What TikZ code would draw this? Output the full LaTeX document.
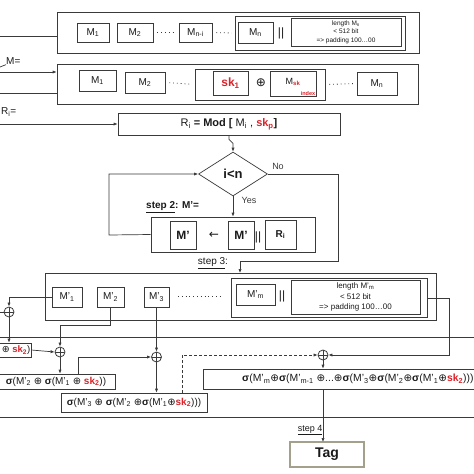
\documentclass[tikz,border=0pt]{standalone}
\usepackage{fontspec}
\setmainfont{Liberation Sans}
\newfontfamily\dvs{DejaVu Sans}
\usetikzlibrary{arrows.meta,shapes.geometric}
\definecolor{lc}{HTML}{3A3A3A}
\definecolor{tc}{HTML}{1A1A1A}
\definecolor{kr}{HTML}{D8232A}
\definecolor{tagc}{HTML}{A3A18C}
\newcommand{\xo}{{\dvs ⊕}}
\newcommand{\skr}[1]{\textcolor{kr}{\bfseries sk\textsubscript{#1}}}
\newcommand{\sg}{\textbf{σ}}
\begin{document}
\begin{tikzpicture}[x=1pt,y=-1pt,
  bx/.style={draw=lc, line width=0.7pt, inner sep=0pt, text=tc, font=\fontsize{10}{12}\selectfont},
  lbl/.style={inner sep=0pt, text=tc, font=\fontsize{10}{12}\selectfont},
  xor/.style={circle, draw=lc, line width=0.8pt, minimum size=10pt, inner sep=0pt,
    path picture={\draw[lc, line width=0.8pt] (path picture bounding box.north) -- (path picture bounding box.south)
      (path picture bounding box.west) -- (path picture bounding box.east);}},
  ln/.style={lc, line width=0.7pt},
  arr/.style={lc, line width=0.7pt, -{Latex[length=4pt,width=3.2pt]}},
  dts/.style={lc, line width=0.8pt, dash pattern=on 0.8pt off 3pt, shorten <=4pt, shorten >=3pt}]
\useasboundingbox (0,0) rectangle (474,474);
\fill[white] (0,0) rectangle (474,474);

% ---------- row 1 ----------
\node[bx, minimum width=362, minimum height=41] (b1) at (238,32.5) {};
\node[bx, minimum width=32, minimum height=19] (m1) at (93,32.5) {M\textsubscript{1}};
\node[bx, minimum width=36, minimum height=19] (m2) at (135,32.5) {M\textsubscript{2}};
\node[bx, minimum width=33, minimum height=19] (mni) at (195.5,32.5) {M\textsubscript{n-i}};
\node[bx, minimum width=170, minimum height=34] (in1) at (320,33) {};
\node[bx, minimum width=35, minimum height=21] (mn) at (255.5,32.5) {M\textsubscript{n}};
\node[lbl, font=\fontsize{12}{12}\selectfont] (bar1) at (281,33) {||};
\node[bx, minimum width=110, minimum height=28, align=center, font=\fontsize{6.5}{8.5}\selectfont] (len1) at (346,32) {length M\textsubscript{n}\\< 512 bit\\=> padding 100…00};
\draw[dts] (m2.east) -- (mni.west);
\draw[dts] (mni.east) -- (in1.west);
\coordinate (c1) at (0,36);
\draw[ln] (c1) -- (c1 -| b1.west);

% ---------- row 2 ----------
\node[lbl, anchor=west] (lm) at (6,61) {M=};
\draw[ln] (0,67) -- (lm.south west);
\node[bx, minimum width=361, minimum height=40] (b2) at (237.5,84) {};
\node[bx, minimum width=37, minimum height=21] (n1) at (97.5,80.5) {M\textsubscript{1}};
\node[bx, minimum width=40, minimum height=21] (n2) at (145,82.5) {M\textsubscript{2}};
\node[bx, minimum width=130, minimum height=31] (in2) at (260,84.5) {};
\node[bx, minimum width=35, minimum height=24, font=\fontsize{12}{12}\selectfont] (sk1) at (230.5,83) {\skr{1}};
\node[lbl, font=\fontsize{12}{12}\selectfont\dvs] (xo1) at (261,83) {⊕};
\node[bx, minimum width=46, minimum height=25, font=\fontsize{9}{10}\selectfont,
  label={[anchor=south east, inner sep=1pt, text=kr, font=\fontsize{5.5}{6}\selectfont\bfseries]south east:index}] (msk) at (293,83.5)
  {\raisebox{4pt}{M\textsubscript{\textcolor{kr}{\bfseries sk}}}\hspace{10pt}};
\node[bx, minimum width=40, minimum height=23] (mn2) at (377,83.5) {M\textsubscript{n}};
\draw[dts] (n2.east) -- (in2.west);
\draw[dts] (in2.east) -- (mn2.west);
\coordinate (c2) at (0,72);
\coordinate (c3) at (0,93);
\draw[arr] (c2) -- (c2 -| b2.west);
\draw[ln] (c3) -- (c3 -| b2.west);

% ---------- Mod ----------
\node[lbl, anchor=west] (lr) at (1,112) {R\textsubscript{i}=};
\node[bx, minimum width=222, minimum height=22, font=\fontsize{11}{12}\selectfont] (mod) at (229,124)
  {R\textsubscript{i} \textbf{= Mod [} M\textsubscript{i} , \skr{p}\textbf{]}};
\coordinate (c4) at (0,124);
\draw[arr] (c4) -- (mod.west);

% ---------- decision ----------
\node[diamond, draw=lc, line width=0.7pt, minimum width=69, minimum height=44, inner sep=0pt, aspect=1.6,
  text=tc, font=\bfseries\fontsize{13}{13}\selectfont] (dia) at (233,174) {i<n};
\draw[arr] (mod.south) -- ++(0,4) -- ++(4,4) -- (dia.north);
\node[lbl, text=lc, font=\fontsize{9}{10}\selectfont] (no) at (278,166) {No};
\node[lbl, text=lc, font=\fontsize{9}{10}\selectfont] (yes) at (249,200) {Yes};

% ---------- step 2 ----------
\node[lbl, anchor=west, font=\bfseries\fontsize{10}{12}\selectfont] (s2) at (146,207) {\underline{step 2}: M'=};
\node[bx, minimum width=164, minimum height=35] (st2) at (233,234.5) {};
\node[bx, minimum width=26, minimum height=28, font=\bfseries\fontsize{12}{12}\selectfont] (mp1) at (183,235) {M'};
\node[lbl, font=\fontsize{12}{12}\selectfont\dvs] (la) at (214,235) {←};
\node[bx, minimum width=26, minimum height=28, font=\bfseries\fontsize{12}{12}\selectfont] (mp2) at (241,235) {M'};
\node[lbl, font=\fontsize{12}{12}\selectfont] (bar2) at (258,237) {||};
\node[bx, minimum width=31, minimum height=29, font=\bfseries\fontsize{10}{12}\selectfont] (ri) at (280.5,234.5) {R\textsubscript{i}};
\draw[arr] (dia.south) -- (st2.north);
\draw[arr] (st2.west) -- (109,235) -- (109,174) -- (dia.west);

% ---------- step 3 ----------
\node[lbl, font=\fontsize{10}{12}\selectfont] (s3) at (213,263) {\underline{step 3}:};
\node[bx, minimum width=391, minimum height=47] (st3) at (240.5,296.5) {};
\node[bx, minimum width=30, minimum height=20] (q1) at (67,297) {M'\textsubscript{1}};
\node[bx, minimum width=27, minimum height=20] (q2) at (110.5,297) {M'\textsubscript{2}};
\node[bx, minimum width=25, minimum height=20] (q3) at (156.5,297) {M'\textsubscript{3}};
\node[bx, minimum width=196, minimum height=39] (in3) at (329,297.5) {};
\node[bx, minimum width=39, minimum height=21] (qm) at (255.5,294.5) {M'\textsubscript{m}};
\node[lbl, font=\fontsize{12}{12}\selectfont] (bar3) at (282,296) {||};
\node[bx, minimum width=129, minimum height=34, align=center, font=\fontsize{8}{10.5}\selectfont] (len3) at (355.5,297) {length M'\textsubscript{m}\\< 512 bit\\=> padding 100…00};
\coordinate (d3a) at (178,296);
\coordinate (d3b) at (222,296);
\draw[dts, shorten <=0pt, shorten >=0pt] (d3a) -- (d3b);
\draw[arr] (dia.east) -- (338,174) -- (338,261) -- (240,261) -- (240,273);

% ---------- separator lines ----------
\coordinate (h1a) at (0,337); \coordinate (h1b) at (474,337);
\coordinate (h2a) at (0,417); \coordinate (h2b) at (474,417);
\draw[ln] (h1a) -- (h1b);
\draw[ln] (h2a) -- (h2b);

% ---------- chain ----------
\node[xor] (x1) at (9,312) {};
\node[xor] (x2) at (60,352) {};
\node[xor] (x3) at (156.5,357) {};
\node[xor] (xm) at (323,355) {};
\node[bx, minimum width=38, minimum height=14] (f1) at (12,350) {};
\node[lbl, anchor=east, font=\fontsize{9.5}{11}\selectfont] (f1t) at (30.5,350) {\xo{} \skr{2})};
\node[bx, minimum width=118, minimum height=15, font=\fontsize{10}{11}\selectfont] (f2) at (56,381.5)
  {\sg(M'\textsubscript{2} \xo{} \sg(M'\textsubscript{1} \xo{} \skr{2}))};
\node[bx, minimum width=146, minimum height=19, font=\fontsize{10}{11}\selectfont] (f3) at (134,402.5)
  {\sg(M'\textsubscript{3} \xo{} \sg(M'\textsubscript{2} \xo\sg(M'\textsubscript{1}\xo\skr{2})))};
\node[bx, minimum width=275, minimum height=20] (f4) at (340.5,379) {};
\node[lbl, anchor=west, font=\fontsize{10.4}{11}\selectfont] (f4t) at (242,379)
  {\sg(M'\textsubscript{m}\xo\sg(M'\textsubscript{m-1} \xo...\xo\sg(M'\textsubscript{3}\xo\sg(M'\textsubscript{2}\xo\sg(M'\textsubscript{1}\xo\skr{2})))};

\draw[arr] (q1.west) -- (9,297) -- (x1.north);
\coordinate (c5) at (0,312);
\draw[ln] (c5) -- (x1.west);
\draw[arr] (x1.south) -- (x1.south |- f1.north);
\draw[arr] (f1.east) -- (x2.west);
\draw[arr] (q2.south) -- (110.5,325) -- (60,325) -- (x2.north);
\draw[arr] (x2.south) -- (x2.south |- f2.north);
\draw[arr] (78,374) -- (78,357) -- (x3.west);
\draw[arr] (q3.south) -- (x3.north);
\draw[arr] (x3.south) -- (x3.south |- f3.north);
\draw[arr, dash pattern=on 3pt off 2pt] (182,393) -- (182,355) -- (xm.west);
\draw[arr] (in3.east |- 0,298) -- (449,298) -- (449,355) -- (xm.east);
\draw[arr] (xm.south) -- (xm.south |- f4.north);

% ---------- tag ----------
\node[draw=tagc, line width=1.3pt, minimum width=74, minimum height=25, text=tc, font=\bfseries\fontsize{14}{14}\selectfont] (tag) at (327,454.5) {Tag};
\node[lbl, anchor=east, font=\fontsize{9}{10}\selectfont] (s4) at (325,430) {\underline{step 4}:};
\draw[arr] (323,389) -- (323,442);
\end{tikzpicture}
\end{document}
